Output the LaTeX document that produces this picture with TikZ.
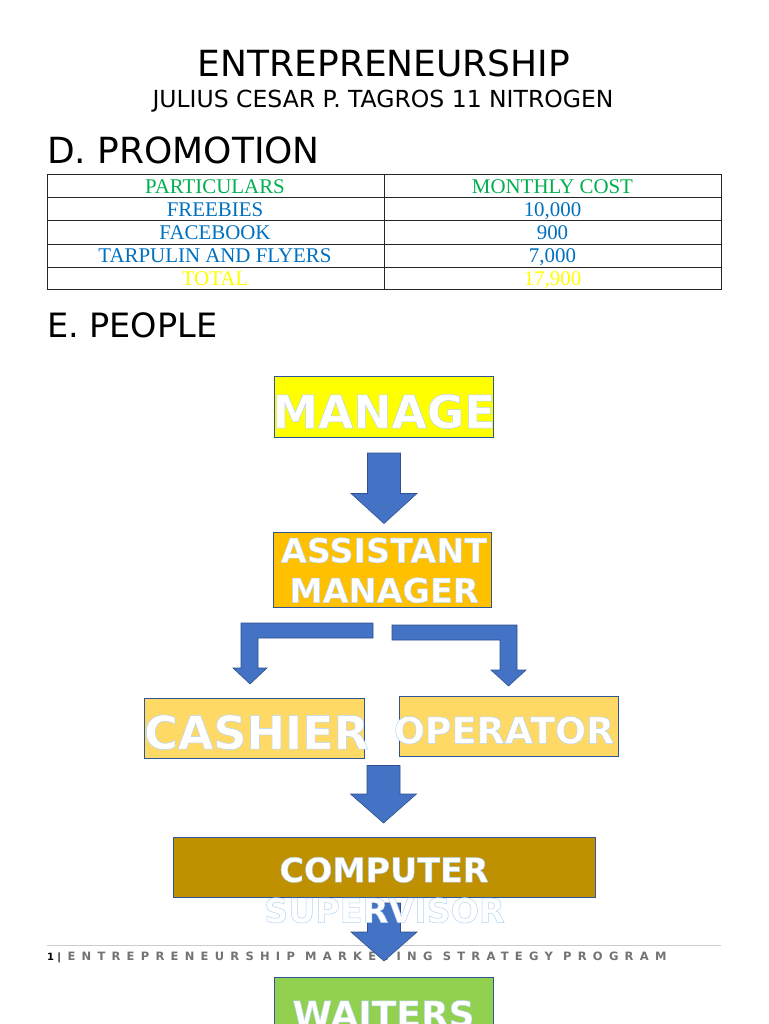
\documentclass[tikz,border=0pt]{standalone}
\usepackage{fontspec}
\setmainfont{DejaVu Sans}
\newfontfamily\tblfont{Liberation Serif}
\newfontfamily\footfont[LetterSpace=54.5]{DejaVu Sans}
\usetikzlibrary{calc}
\definecolor{tgreen}{HTML}{00B050}
\definecolor{tblue}{HTML}{0070C0}
\definecolor{tyellow}{HTML}{FFFF00}
\definecolor{boxline}{HTML}{2F5597}
\definecolor{arrowfill}{HTML}{4472C4}
\definecolor{arrowline}{HTML}{2F528F}
\definecolor{bxamber}{HTML}{FFC000}
\definecolor{bxsand}{HTML}{FFD966}
\definecolor{bxbrown}{HTML}{BF9000}
\definecolor{bxgreen}{HTML}{92D050}
\newcommand{\outl}[1]{\special{pdf:literal direct 2 Tr 0.5 w 0.70 0.83 0.96 RG}#1\special{pdf:literal direct 0 Tr}}
\tikzset{
  txt/.style={inner sep=0pt,outer sep=0pt,anchor=base},
  head/.style={txt,anchor=base west,font=\fontsize{#1}{#1}\selectfont},
  cell/.style={txt,text=#1,font=\tblfont\fontsize{20.9}{20.9}\selectfont},
  orgbox/.style={draw=boxline,line width=1pt,inner sep=0pt,outer sep=0pt,fill=#1},
  white text/.style={txt,text=white,font=\bfseries\fontsize{#1}{#1}\selectfont},
  blockarrow/.style={fill=arrowfill,draw=arrowline,line width=0.6pt,line join=miter},
}
% start, end, head length, half shaft, half head
\newcommand{\blockdown}[5]{%
  \draw[blockarrow] ($(#1)+(-#4,0)$) -- ($(#1)+(#4,0)$) -- ($(#1 |- #2)+(#4,-#3)$)
   -- ($(#1 |- #2)+(#5,-#3)$) -- (#1 |- #2) -- ($(#1 |- #2)+(-#5,-#3)$)
   -- ($(#1 |- #2)+(-#4,-#3)$) -- cycle;}
\begin{document}
\begin{tikzpicture}[x=1pt,y=-1pt]
\useasboundingbox (0,0) rectangle (768,1024);
\clip (0,0) rectangle (768,1024);
\fill[white] (0,0) rectangle (768,1024);

% headings
\node[txt,font=\fontsize{36}{36}\selectfont] (title) at (384,76.5) {ENTREPRENEURSHIP};
\node[txt,font=\fontsize{23.5}{23.5}\selectfont] (sub) at (383,108) {JULIUS CESAR P. TAGROS 11 NITROGEN};
\node[head=36] (promo) at (47,163.5) {D. PROMOTION};
\node[head=33.5] (people) at (47,337) {E. PEOPLE};

% table
\draw[line width=1pt,black!85]
  (47,174.5) rectangle (721,289.5)
  (47,198) -- (721,198) (47,221) -- (721,221) (47,244) -- (721,244) (47,267) -- (721,267)
  (384.5,174.5) -- (384.5,289.5);
\node[cell=tgreen] (c11) at (215,193.5) {PARTICULARS};
\node[cell=tgreen] (c12) at (552.5,193.5) {MONTHLY COST};
\node[cell=tblue] (c21) at (215,216.5) {FREEBIES};
\node[cell=tblue] (c22) at (552.5,216.5) {10,000};
\node[cell=tblue] (c31) at (215,239.5) {FACEBOOK};
\node[cell=tblue] (c32) at (552.5,239.5) {900};
\node[cell=tblue] (c41) at (215,262) {TARPULIN AND FLYERS};
\node[cell=tblue] (c42) at (552.5,262) {7,000};
\node[cell=tyellow] (c51) at (215,285) {TOTAL};
\node[cell=tyellow] (c52) at (552.5,285) {17,900};

% footer
\draw[black!20,line width=0.7pt] (47,945.7) -- (721,945.7);
\node[txt,anchor=base west,font=\bfseries\fontsize{10}{10}\selectfont] (pg) at (47,960) {1\,\,|};
\node[txt,anchor=base west,text=black!55,font=\footfont\bfseries\fontsize{11.5}{11.5}\selectfont] (foot) at (67.5,960) {ENTREPRENEURSHIP MARKETING STRATEGY PROGRAM};

% boxes
\node[orgbox=tyellow,minimum width=219pt,minimum height=61pt] (manage) at (383.5,406.5) {};
\node[orgbox=bxamber,minimum width=218pt,minimum height=75pt] (asst) at (382,570) {};
\node[orgbox=bxsand,minimum width=220pt,minimum height=60pt] (cashier) at (254,728) {};
\node[orgbox=bxsand,minimum width=219pt,minimum height=60pt] (oper) at (508.5,726) {};
\node[orgbox=bxbrown,minimum width=422pt,minimum height=60pt] (comp) at (384,867) {};
\node[orgbox=bxgreen,minimum width=219pt,minimum height=70pt] (wait) at (383.5,1012) {};

% straight block arrows
\coordinate (a1s) at ($(manage.south)+(0.5,16)$);
\coordinate (a1e) at ($(asst.north)+(0,-9)$);
\blockdown{a1s}{a1e}{30}{16.5}{33}
\coordinate (a2s) at (383.5,765.5);
\coordinate (a2e) at ($(comp.north)+(0,-14)$);
\blockdown{a2s}{a2e}{29}{16.5}{33}
\coordinate (a3s) at ($(comp.south)+(0,6)$);
\coordinate (a3e) at ($(wait.north)+(0,-16)$);
\blockdown{a3s}{a3e}{29}{16.5}{33}

% bent block arrows
\coordinate (la) at (373,623);
\coordinate (lb) at ($(cashier.north)+(-4,-14)$);
\draw[blockarrow] (la) -- (241,623) -- (241,668) -- (233,668) -- (lb) -- (267,668) -- (258,668) -- (258,638) -- (373,638) -- cycle;
\coordinate (ra) at (392,625);
\coordinate (rb) at ($(oper.north)+(0,-10)$);
\draw[blockarrow] (ra) -- (517,625) -- (517,670) -- (526,670) -- (rb) -- (491,670) -- (500,670) -- (500,640) -- (392,640) -- cycle;

% box texts
\node[white text=45.6] (tmanage) at (384,428) {\outl{MANAGE}};
\node[white text=33.5] (tasst) at (384,562.5) {\outl{ASSISTANT}};
\node[white text=33.5] (tmgr) at (384,602.5) {\outl{MANAGER}};
\node[white text=46] (tcash) at (256.5,749) {\outl{CASHIER}};
\node[white text=36.5] (toper) at (504,743.5) {\outl{OPERATOR}};
\node[white text=33.4] (tcomp) at (384,882) {\outl{COMPUTER}};
\node[white text=33.4] (tsup) at (384.5,922.5) {\outl{SUPERVISOR}};
\node[white text=36] (twait) at (383.5,1027) {\outl{WAITERS}};
\end{tikzpicture}
\end{document}
